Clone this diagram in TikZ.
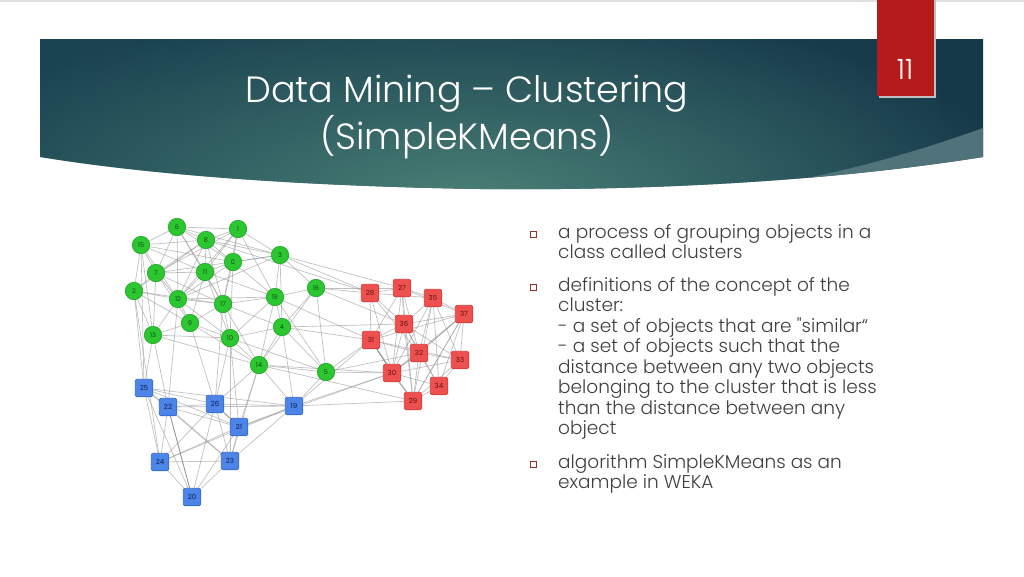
\documentclass[tikz,border=0pt]{standalone}
\usepackage{fontspec}
\setmainfont{Poppins}
\newfontfamily\lightfont{Poppins Light}
\usetikzlibrary{fadings,backgrounds}
\definecolor{bannerL}{HTML}{1B4452}
\definecolor{bannerM}{HTML}{2C5F62}
\definecolor{bannerR}{HTML}{16394A}
\definecolor{glow}{HTML}{4A8076}
\definecolor{wedgec}{HTML}{56787F}
\definecolor{tabred}{HTML}{B41B1B}
\definecolor{bodytext}{HTML}{404040}
\definecolor{bulletred}{HTML}{9E2A2E}
\definecolor{gfill}{HTML}{2BC630}
\definecolor{gdraw}{HTML}{1FA425}
\definecolor{gtext}{HTML}{124A16}
\definecolor{rfill}{HTML}{EE5050}
\definecolor{rdraw}{HTML}{D43B3B}
\definecolor{rtext}{HTML}{5E1010}
\definecolor{bfill}{HTML}{4C84E8}
\definecolor{bdraw}{HTML}{3468C8}
\definecolor{btext}{HTML}{101A50}
\tikzfading[name=softglow, inner color=transparent!0, outer color=transparent!100]
\begin{document}
\begin{tikzpicture}[x=1pt,y=-1pt,
  gnode/.style={circle, fill=gfill, draw=gdraw, line width=0.6pt, minimum size=17.5pt, inner sep=0pt,
    font=\fontsize{6.5}{6.5}\selectfont, text=gtext},
  rnode/.style={rectangle, rounded corners=2pt, fill=rfill, draw=rdraw, line width=0.6pt, minimum size=17.5pt, inner sep=0pt,
    font=\fontsize{7}{7}\selectfont, text=rtext},
  bnode/.style={rectangle, rounded corners=2pt, fill=bfill, draw=bdraw, line width=0.6pt, minimum size=17.5pt, inner sep=0pt,
    font=\fontsize{7}{7}\selectfont, text=btext},
  edge/.style={draw=black!40, line width=0.7pt, opacity=0.6},
  darkedge/.style={draw=black!55, line width=0.8pt, opacity=0.6},
  titletext/.style={text=white, font=\lightfont\fontsize{36.5}{40}\selectfont, inner sep=0pt},
  bodyline/.style={anchor=base west, inner sep=0pt, text=bodytext, font=\lightfont\fontsize{18.5}{20}\selectfont},
  bulletbox/.style={draw=bulletred, line width=1pt, minimum size=6.5pt, inner sep=0pt, fill=white}
]
\useasboundingbox (0,0) rectangle (1024,576);
\fill[black!12] (0,0) rectangle (1024,2);

% banner
\shade[left color=bannerL, middle color=bannerM, right color=bannerR]
  (40,39) -- (983,39) -- (983,157) .. controls (850,178) and (680,191) .. (480,189)
  .. controls (300,186) and (150,175) .. (40,157) -- cycle;
\begin{scope}
  \clip (40,39) -- (983,39) -- (983,157) .. controls (850,178) and (680,191) .. (480,189)
    .. controls (300,186) and (150,175) .. (40,157) -- cycle;
  \fill[glow, path fading=softglow] (470,200) ellipse [x radius=560, y radius=200];
  \fill[wedgec, opacity=0.9] (983,128) .. controls (900,158) and (820,178) .. (740,190)
    -- (740,215) -- (1000,215) -- (1000,128) -- cycle;
\end{scope}

% page number tab
\fill[black!25] (879,0) rectangle (936,98);
\fill[tabred] (877,0) rectangle (934,96);
\node[text=white, font=\lightfont\fontsize{28}{30}\selectfont, inner sep=0pt] (pagenum) at (905,69) {11};

% title
\node[titletext, anchor=base] (title1) at (467,102) {Data Mining – Clustering};
\node[titletext, anchor=base] (title2) at (467,149) {(SimpleKMeans)};

% bullets
\node[bulletbox] (b1) at (533.5,234.5) {};
\node[bulletbox] (b2) at (533.5,287.5) {};
\node[bulletbox] (b3) at (533.5,464.5) {};
\node[bodyline] (l1) at (558,238) {a process of grouping objects in a};
\node[bodyline] (l2) at (558,258.5) {class called clusters};
\node[bodyline] (l3) at (558,291) {definitions of the concept of the};
\node[bodyline] (l4) at (558,311.5) {cluster:};
\node[bodyline] (l5) at (558,332) {- a set of objects that are "similar“};
\node[bodyline] (l6) at (558,352.5) {- a set of objects such that the};
\node[bodyline] (l7) at (558,373) {distance between any two objects};
\node[bodyline] (l8) at (558,393.5) {belonging to the cluster that is less};
\node[bodyline] (l9) at (558,414) {than the distance between any};
\node[bodyline] (l10) at (558,434.5) {object};
\node[bodyline] (l11) at (558,468) {algorithm SimpleKMeans as an};
\node[bodyline] (l12) at (558,488.5) {example in WEKA};

% graph nodes: green
\foreach \i/\x/\y in {0/233/262, 1/238/229, 2/134/291, 3/280/255, 4/282/327, 5/326/372,
  6/177/227, 7/156/273, 8/206/240, 9/190/323, 10/230/338, 11/205/272, 12/178/299,
  13/153/335, 14/259/365, 15/141/245, 16/316/288, 17/223/304, 18/275/297}
  \node[gnode] (n\i) at (\x,\y) {\i};
% blue
\foreach \i/\x/\y in {19/294/406, 20/192/497, 21/239/427, 22/168/407, 23/230/461,
  24/160/462, 25/144/388, 26/215/404}
  \node[bnode] (n\i) at (\x,\y) {\i};
% red
\foreach \i/\x/\y in {27/402/288, 28/370/293, 29/413/401, 30/392/373, 31/371/340,
  32/419/353, 33/460/360, 34/439/386, 35/433/298, 36/404/324, 37/464/314}
  \node[rnode] (n\i) at (\x,\y) {\i};

\begin{pgfonlayer}{background}
\fill[white] (0,2) rectangle (1024,576);
\foreach \a/\b in {15/6,15/8,15/7,15/2,15/12,15/11,15/0,15/13,
  6/8,6/1,6/7,6/11,6/12,6/17,6/0,6/3,
  1/8,1/0,1/3,1/17,1/18,1/11,1/12,1/7,
  8/11,8/0,8/7,8/12,8/3,8/2,8/17,
  0/3,0/11,0/17,0/10,0/12,0/18,
  3/18,3/4,3/16,3/12,3/7,
  7/2,7/12,7/11,7/9,7/13,7/17,
  11/12,11/17,11/9,11/10,11/18,
  2/12,2/13,2/17,2/9,
  12/17,12/9,12/13,12/10,12/18,
  17/18,17/10,17/9,17/4,17/14,
  18/16,18/4,18/14,18/10,18/5,
  16/4,16/5,16/14,
  9/10,9/13,9/14,
  4/14,4/5,4/10,
  13/10,13/14,
  10/14,10/5,14/5,
  15/25,2/25,13/25,13/22,2/24,9/26,10/26,10/21,14/21,14/19,14/26,5/19,4/19,17/26,12/22,10/23,14/23,
  3/28,3/27,8/28,16/28,16/27,16/36,18/31,4/31,5/31,5/30,5/32,14/30,14/29,4/36,
  19/30,19/29,19/31,21/30,
  28/27,28/35,28/36,28/31,28/32,28/30,
  27/35,27/36,27/37,27/32,27/31,27/30,27/29,
  35/37,35/36,35/32,35/33,35/34,35/29,35/30,
  37/36,37/33,37/34,37/30,37/31,
  36/31,36/32,36/30,36/33,36/34,36/29,
  31/32,31/30,31/29,31/33,
  32/33,32/34,32/29,
  33/34,33/30,33/29,
  30/34,34/29,
  25/22,25/26,25/19,25/24,25/20,25/21,25/23,
  22/26,22/19,22/21,22/24,22/20,22/23,
  26/21,26/19,26/24,26/23,26/20,
  19/21,19/24,19/23,
  21/24,21/23,21/20,
  24/23,24/20,23/20}
  \draw[edge] (n\a) -- (n\b);
\foreach \a/\b in {37/32,37/29,32/30,30/29,31/30,26/21,22/20}
  \draw[darkedge] (n\a) -- (n\b);
\end{pgfonlayer}
\end{tikzpicture}
\end{document}
